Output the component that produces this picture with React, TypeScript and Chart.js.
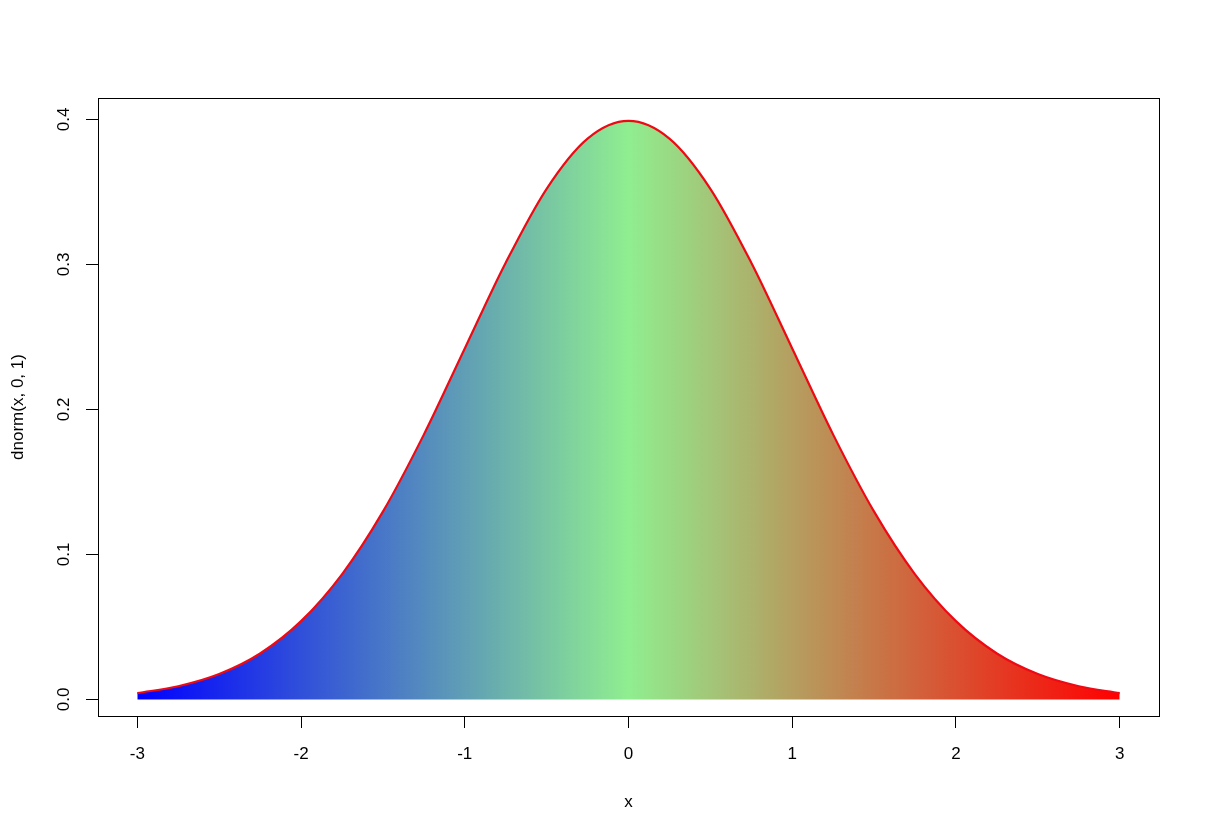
import React, { useEffect, useRef } from "react";
import { Chart, registerables } from "chart.js";

Chart.register(...registerables);

// Values
const xValues = [-3, -2.75, -2.5, -2.25, -2, -1.75, -1.5, -1.25, -1, -0.75, -0.5, -0.25, 0,
  0.25, 0.5, 0.75, 1, 1.25, 1.5, 1.75, 2, 2.25, 2.5, 2.75, 3];
const densityValues = [0.0044, 0.0091, 0.0175, 0.0317, 0.054, 0.0863, 0.1295, 0.1826, 0.242, 0.3011, 0.3521, 0.3867, 0.3989,
  0.3867, 0.3521, 0.3011, 0.242, 0.1826, 0.1295, 0.0863, 0.054, 0.0317, 0.0175, 0.0091, 0.0044];
const xTicks = [-3, -2, -1, 0, 1, 2, 3];
const yTicks = [0, 0.1, 0.2, 0.3, 0.4];
const gradientColors = ["#0000FF", "#90EE90", "#FF0000"];

const FONT = "'Liberation Sans', Arial, sans-serif";
const FSIZE = 17;

export default function App() {
  const canvasRef = useRef<HTMLCanvasElement | null>(null);

  useEffect(() => {
    const canvas = canvasRef.current;
    if (!canvas) return;

    const boxPlugin = {
      id: "rbox",
      afterDraw(chart: any) {
        const { ctx, chartArea } = chart;
        ctx.save();
        ctx.strokeStyle = "#000";
        ctx.lineWidth = 1;
        ctx.strokeRect(Math.round(chartArea.left) + 0.5, Math.round(chartArea.top) + 0.5,
          Math.round(chartArea.right - chartArea.left), Math.round(chartArea.bottom - chartArea.top));
        ctx.restore();
      },
    };

    const chart = new Chart(canvas, {
      type: "line",
      data: {
        datasets: [
          {
            data: xValues.map((x, i) => ({ x, y: densityValues[i] })),
            borderColor: "#EE0A14",
            borderWidth: 2.2,
            pointRadius: 0,
            cubicInterpolationMode: "monotone",
            fill: "origin",
            backgroundColor: (ctx: any) => {
              const ch = ctx.chart;
              const xs = ch.scales.x;
              if (!xs || !ch.chartArea) return gradientColors[1];
              const g = ch.ctx.createLinearGradient(
                xs.getPixelForValue(xValues[0]), 0,
                xs.getPixelForValue(xValues[xValues.length - 1]), 0
              );
              g.addColorStop(0, gradientColors[0]);
              g.addColorStop(0.5, gradientColors[1]);
              g.addColorStop(1, gradientColors[2]);
              return g;
            },
          } as any,
        ],
      },
      options: {
        animation: false,
        responsive: false,
        devicePixelRatio: 1,
        layout: { padding: { top: 98, right: 51, left: 0, bottom: 0 } },
        plugins: { legend: { display: false }, tooltip: { enabled: false } },
        scales: {
          x: {
            type: "linear",
            min: -3.24,
            max: 3.24,
            afterBuildTicks: (s: any) => {
              s.ticks = xTicks.map((v) => ({ value: v }));
            },
            afterFit: (s: any) => {
              s.height = 123;
            },
            grid: { drawOnChartArea: false, drawTicks: true, tickLength: 12, color: "#000", lineWidth: 1 },
            border: { display: true, color: "#000" },
            ticks: {
              color: "#000",
              font: { family: FONT, size: FSIZE },
              padding: 16,
              maxRotation: 0,
              autoSkip: false,
              callback: (v: any) => String(v),
            },
            title: {
              display: true,
              text: "x",
              color: "#000",
              font: { family: FONT, size: FSIZE },
              padding: { top: 0, bottom: 26 },
            },
          },
          y: {
            type: "linear",
            min: -0.0114,
            max: 0.4147,
            afterBuildTicks: (s: any) => {
              s.ticks = yTicks.map((v) => ({ value: v }));
            },
            afterFit: (s: any) => {
              s.width = 98;
            },
            grid: { drawOnChartArea: false, drawTicks: true, tickLength: 12, color: "#000", lineWidth: 1 },
            border: { display: true, color: "#000" },
            ticks: {
              color: "#000",
              font: { family: FONT, size: FSIZE },
              padding: 10,
              minRotation: 90,
              maxRotation: 90,
              crossAlign: "center",
              autoSkip: false,
              callback: (v: any) => Number(v).toFixed(1),
            },
            title: {
              display: true,
              text: "dnorm(x, 0, 1)",
              color: "#000",
              font: { family: FONT, size: FSIZE },
              padding: { top: 8, bottom: 0 },
            },
          },
        },
      } as any,
      plugins: [boxPlugin],
    });

    return () => chart.destroy();
  }, []);

  return (
    <div style={{ position: "fixed", left: 0, top: 0, width: 1210, height: 839, background: "#fff" }}>
      <canvas ref={canvasRef} width={1210} height={839} style={{ width: 1210, height: 839 }} />
    </div>
  );
}
